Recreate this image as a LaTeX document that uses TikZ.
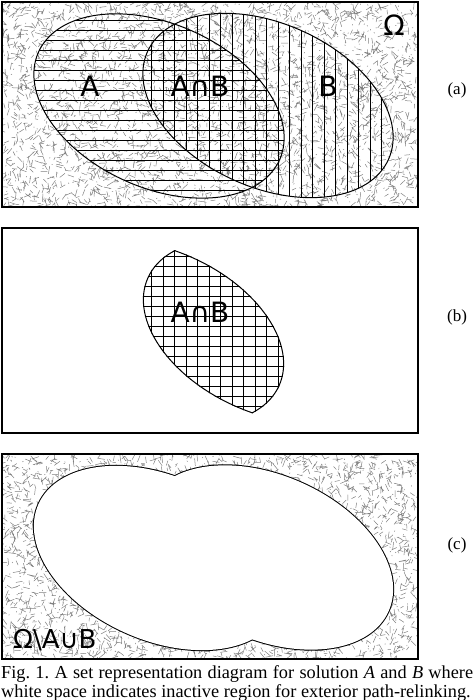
\documentclass[tikz,border=0pt]{standalone}
\usepackage{fontspec}
\newfontfamily\lblfam{DejaVu Sans}
\newfontfamily\capfam{Liberation Serif}
\frenchspacing

%% random straw texture over one panel
\newcommand{\straws}{%
  \draw[straw] \foreach \i in {1,...,3000} {(2+416*rnd,493+205*rnd) -- ++(360*rnd:3+5*rnd)};
  \draw[straw] \foreach \i in {1,...,900} {(2+416*rnd,493+205*rnd) -- ++(360*rnd:1.2)};}

\begin{document}
\begin{tikzpicture}[x=1pt,y=1pt,
  frame/.style={line width=1.7pt},
  setline/.style={line width=1pt},
  hatch/.style={line width=0.9pt},
  straw/.style={black!50,line width=0.5pt},
  setA/.style={rotate around={-24:(159,594)}},
  setB/.style={rotate around={-24:(268,594.5)}},
  lbl/.style={font=\lblfam\fontsize{28}{30}\selectfont,inner sep=0pt},
  tag/.style={font=\capfam\fontsize{17}{20}\selectfont,inner sep=0pt},
  capt/.style={font=\capfam\fontsize{18.3}{20}\selectfont,inner sep=0pt}]
\useasboundingbox (0,0) rectangle (474,700);
\pgfmathsetseed{11}

%% (a)
\begin{scope}
  \clip (2,493) rectangle (418,698);
  \straws
\end{scope}
\begin{scope}
  \clip[setA] (159,594) ellipse (132 and 82);
  \draw[hatch] \foreach \y in {500,510,...,690} {(20,\y) -- (300,\y)};
\end{scope}
\begin{scope}
  \clip[setB] (268,594.5) ellipse (132 and 82);
  \draw[hatch] \foreach \x in {140,151.5,...,400} {(\x,495) -- (\x,696)};
\end{scope}
\draw[setline,setA] (159,594) ellipse (132 and 82);
\draw[setline,setB] (268,594.5) ellipse (132 and 82);
\draw[frame] (2,493) rectangle (418,698);
\node[lbl] (labA) at (90,614) {A};
\node[lbl] (labAB) at (200,614) {A∩B};
\node[lbl] (labB) at (328,614) {B};
\node[lbl] (omega) at (394,675) {Ω};

%% (b)
\begin{scope}[yshift=-226pt]
  \begin{scope}
    \clip[setA] (159,594) ellipse (132 and 82);
    \clip[setB] (268,594.5) ellipse (132 and 82);
    \draw[hatch] \foreach \y in {500,510,...,690} {(120,\y) -- (300,\y)};
    \draw[hatch] \foreach \x in {140,151.5,...,300} {(\x,495) -- (\x,696)};
    \draw[setA,line width=2pt] (159,594) ellipse (132 and 82);
    \draw[setB,line width=2pt] (268,594.5) ellipse (132 and 82);
  \end{scope}
  \draw[frame] (2,493) rectangle (418,698);
  \node[lbl] (labAB2) at (200,614) {A∩B};
\end{scope}

%% (c)
\begin{scope}[yshift=-452pt]
  \begin{scope}
    \clip (2,493) rectangle (418,698);
    \straws
  \end{scope}
  \draw[setA,line width=2pt] (159,594) ellipse (132 and 82);
  \draw[setB,line width=2pt] (268,594.5) ellipse (132 and 82);
  \fill[white,setA] (159,594) ellipse (132 and 82);
  \fill[white,setB] (268,594.5) ellipse (132 and 82);
  \draw[frame] (2,493) rectangle (418,698);
  \node[lbl,anchor=west,font=\lblfam\fontsize{26}{28}\selectfont] (labC) at (13,512) {Ω\textbackslash A∪B};
\end{scope}

%% panel tags and caption
\node[tag] (tagA) at (457,610) {(a)};
\node[tag] (tagB) at (457,383) {(b)};
\node[tag] (tagC) at (457,155) {(c)};
\node[capt,anchor=base west] (cap1) at (1,21) {\makebox[472pt][s]{Fig. 1. A set representation diagram for solution \textit{A} and \textit{B} where}};
\node[capt,anchor=base west] (cap2) at (1,2.5) {white space indicates inactive region for exterior path-relinking.};
\end{tikzpicture}
\end{document}
